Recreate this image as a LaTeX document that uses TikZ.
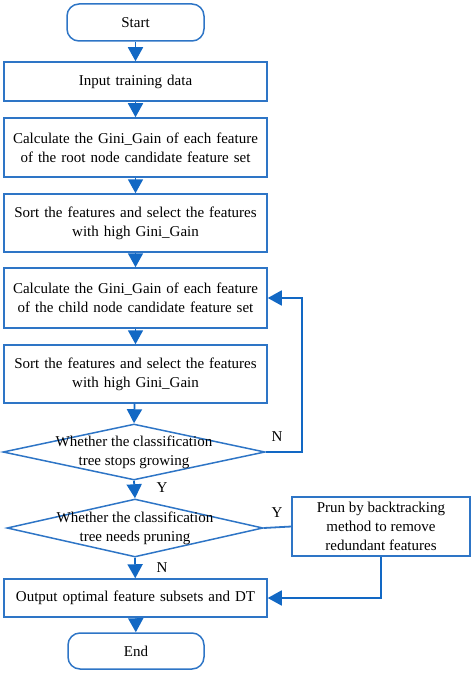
\documentclass[tikz,border=0pt]{standalone}
\usepackage{fontspec}
\setmainfont{Liberation Serif}
\usetikzlibrary{arrows.meta,shapes.geometric}
\definecolor{bord}{RGB}{46,117,198}
\definecolor{arr}{RGB}{18,104,196}
\begin{document}
\begin{tikzpicture}[x=1pt,y=-1pt,
  every node/.style={font=\fontsize{15}{19}\selectfont},
  box/.style={draw=bord,line width=1.5pt,minimum width=263pt,inner sep=0pt,align=center,text width=258pt},
  term/.style={draw=bord,line width=1.5pt,rounded corners=12pt,minimum width=137pt,minimum height=37pt,inner sep=0pt},
  dia/.style={draw=bord,line width=1.5pt,shape=diamond,inner sep=0pt,aspect=4.6},
  conn/.style={draw=arr,line width=1.8pt,-{Triangle[width=15pt,length=14pt]}},
  line/.style={draw=bord,line width=1.8pt},
  lab/.style={inner sep=0pt}]
\useasboundingbox (0,0) rectangle (474,674);
\node[term] (start) at (135.5,22.5) {Start};
\node[box,minimum height=39pt] (input) at (135.5,81.5) {Input training data};
\node[box,minimum height=59pt] (calc1) at (135.5,147.5) {Calculate the Gini\_Gain of each feature\\of the root node candidate feature set};
\node[box,minimum height=58pt] (sort1) at (135.5,223) {Sort the features and select the features\\with high Gini\_Gain};
\node[box,minimum height=60pt] (calc2) at (135.5,298) {Calculate the Gini\_Gain of each feature\\of the child node candidate feature set};
\node[box,minimum height=58pt] (sort2) at (135.5,374) {Sort the features and select the features\\with high Gini\_Gain};
\node[dia,minimum width=262pt,minimum height=56pt] (d1) at (134,452) {};
\node[lab,align=center] (t1) at (134,452) {Whether the classification\\tree stops growing};
\node[dia,minimum width=256pt,minimum height=58pt] (d2) at (135,528) {};
\node[lab,align=center] (t2) at (135,528) {Whether the classification\\tree needs pruning};
\node[draw=bord,line width=1.5pt,minimum width=178pt,minimum height=59pt,inner sep=0pt,align=center] (prun) at (381,526.5) {Prun by backtracking\\method to remove\\redundant features};
\node[box,minimum height=38pt] (output) at (135.5,598) {Output optimal feature subsets and DT};
\node[term,minimum width=136pt,minimum height=36pt] (end) at (136,651) {End};
\coordinate (loopc) at (302,452);
\draw[conn] (start) -- (input);
\draw[conn] (input) -- (calc1);
\draw[conn] (calc1) -- (sort1);
\draw[conn] (sort1) -- (calc2);
\draw[conn] (calc2) -- (sort2);
\draw[conn] (sort2) -- (d1.north);
\draw[conn] (d1.south) -- (d2.north);
\draw[conn] (d2.south) -- (output);
\draw[conn] (output) -- (end);
\draw[conn] (d1.east) -- (loopc) |- (calc2.east);
\draw[line] (d2.east) -- (prun.west);
\draw[conn] (prun.south) |- (output.east);
\node[lab] (n1) at (277,437) {N};
\node[lab] (y1) at (162,488) {Y};
\node[lab] (y2) at (277,513) {Y};
\node[lab] (n2) at (162,568) {N};
\end{tikzpicture}
\end{document}
